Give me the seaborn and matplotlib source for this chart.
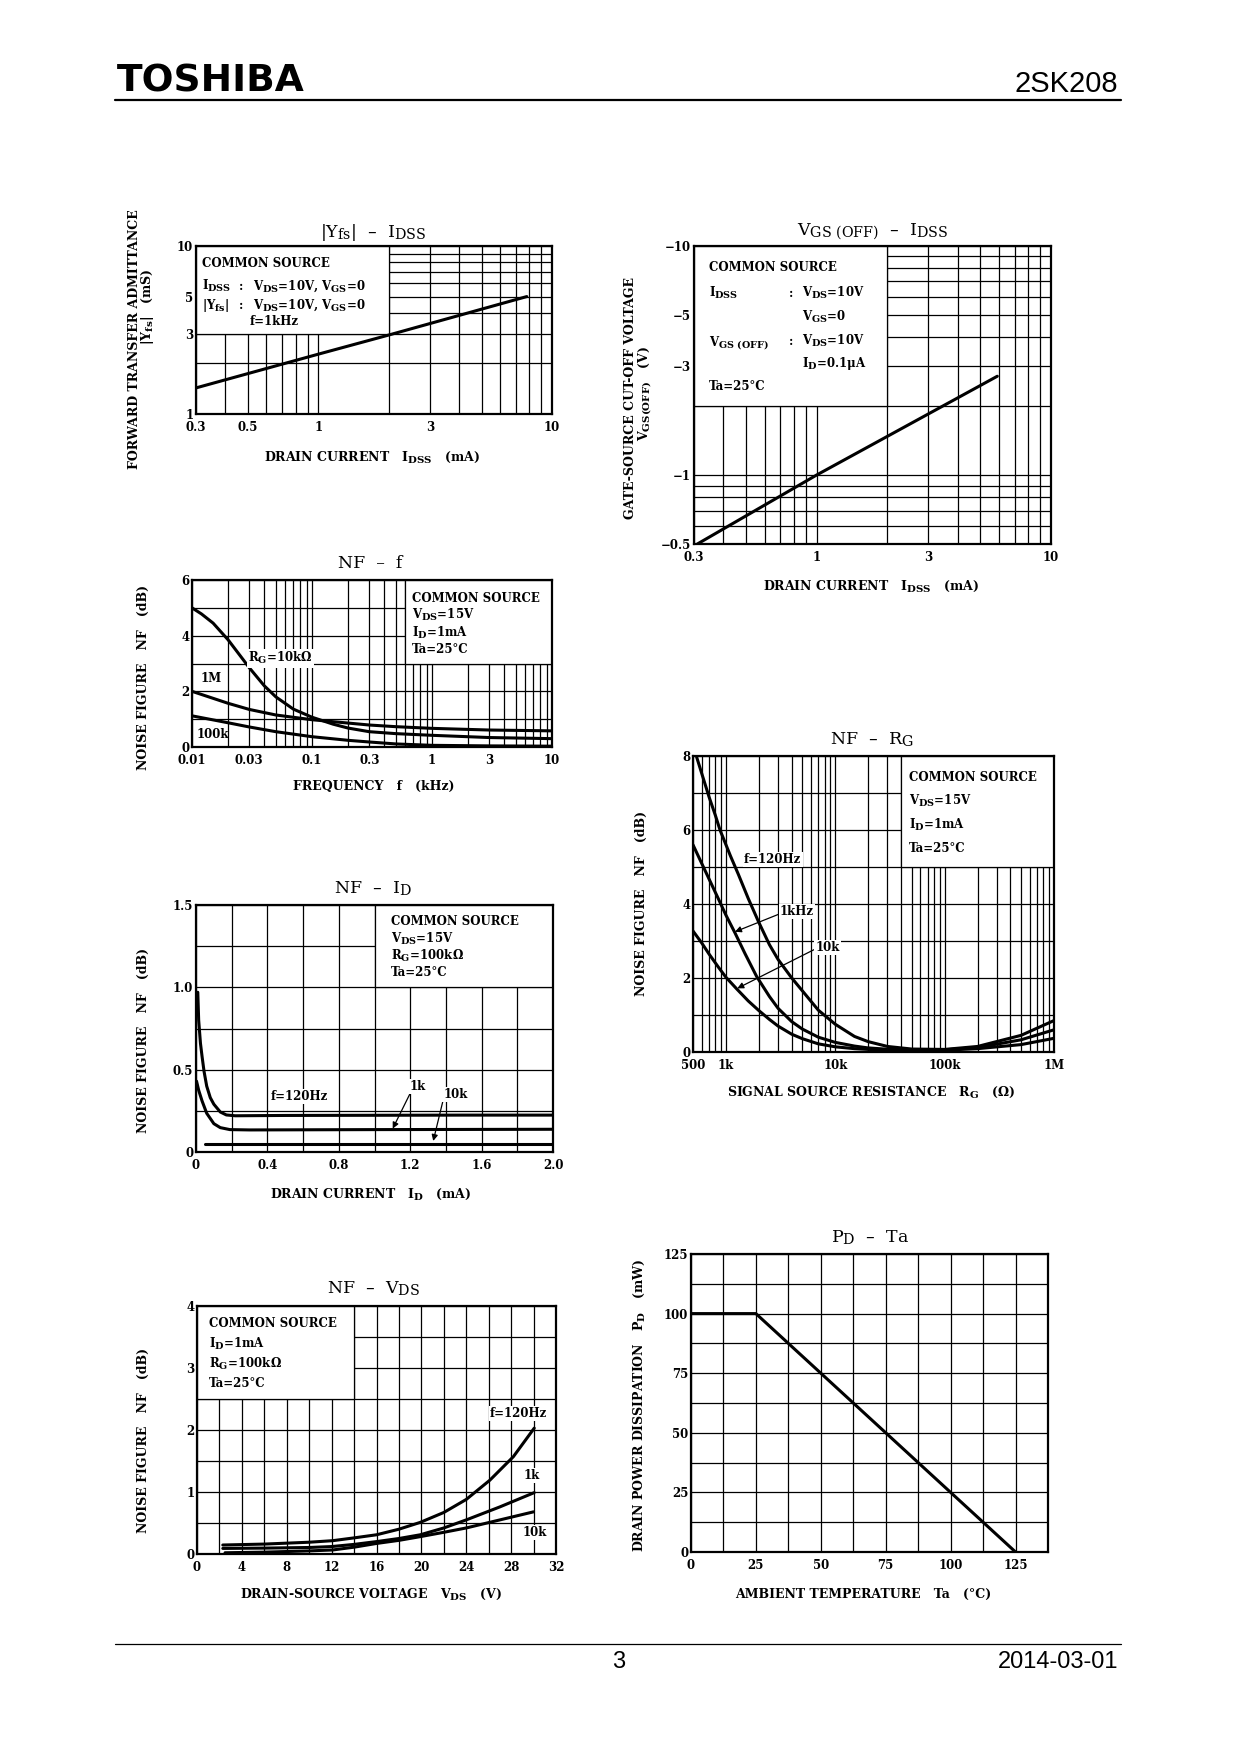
import matplotlib
matplotlib.use("Agg")
import matplotlib.pyplot as plt
import matplotlib._mathtext as _mt
import seaborn as sns
from matplotlib.patches import Rectangle
from matplotlib.lines import Line2D
from matplotlib.ticker import NullFormatter

# ---------------- data ----------------
# |Yfs| - IDSS
yfs_idss = [0.3, 1.0, 2.0, 7.8]
yfs_val = [1.43, 2.27, 2.95, 5.0]

# VGS(OFF) - IDSS  (magnitude of the negative voltage)
vgs_idss = [0.31, 1.0, 5.9]
vgs_val = [0.5, 1.0, 2.7]

# NF - f
nff_f10k = [0.01, 0.012, 0.015, 0.02, 0.025, 0.03, 0.04, 0.05, 0.07, 0.1, 0.15, 0.2, 0.3, 0.5, 1, 3, 10]
nff_10k = [5.0, 4.78, 4.45, 3.85, 3.3, 2.85, 2.2, 1.8, 1.36, 1.07, 0.82, 0.68, 0.55, 0.48, 0.42, 0.34, 0.30]
nff_f = [0.01, 0.02, 0.03, 0.05, 0.1, 0.2, 0.3, 0.5, 1, 3, 10]
nff_1M = [2.0, 1.57, 1.35, 1.15, 0.98, 0.86, 0.79, 0.73, 0.67, 0.61, 0.58]
nff_100k = [1.12, 0.87, 0.72, 0.55, 0.37, 0.24, 0.18, 0.11, 0.06, 0.04, 0.03]

# NF - RG
rg_120 = [540, 620, 700, 800, 883, 1100, 1300, 1600, 1980, 2500, 3000, 4000, 4760, 7000,
          10e3, 15e3, 20e3, 30e3, 50e3, 100e3, 200e3, 500e3, 1e6]
nfrg_120 = [7.97, 7.4, 6.9, 6.4, 6.0, 5.3, 4.8, 4.15, 3.53, 2.9, 2.5, 2.0, 1.73, 1.13,
            0.75, 0.42, 0.28, 0.15, 0.08, 0.07, 0.15, 0.45, 0.85]
rg_1k = [500, 600, 700, 850, 1000, 1210, 1500, 1910, 2500, 3000, 4000, 5000, 7000,
         10e3, 15e3, 20e3, 30e3, 50e3, 100e3, 200e3, 500e3, 1e6]
nfrg_1k = [5.6, 5.1, 4.68, 4.15, 3.7, 3.22, 2.65, 2.04, 1.5, 1.18, 0.82, 0.62, 0.4,
           0.26, 0.16, 0.11, 0.075, 0.05, 0.06, 0.12, 0.33, 0.6]
rg_10k = [500, 600, 700, 850, 1000, 1260, 1600, 2000, 2500, 3000, 4000, 5000, 7000,
          10e3, 15e3, 20e3, 50e3, 100e3, 200e3, 500e3, 1e6]
nfrg_10k = [3.27, 2.95, 2.65, 2.3, 2.02, 1.7, 1.38, 1.12, 0.88, 0.7, 0.48, 0.36, 0.22,
            0.14, 0.09, 0.07, 0.04, 0.05, 0.09, 0.2, 0.37]

# NF - ID
id_120 = [0.01, 0.015, 0.025, 0.034, 0.045, 0.06, 0.08, 0.1, 0.136, 0.17, 0.22, 0.5, 1.0, 1.5, 2.0]
nfid_120 = [0.97, 0.80, 0.66, 0.58, 0.49, 0.40, 0.33, 0.29, 0.243, 0.225, 0.22, 0.222, 0.223, 0.224, 0.224]
id_1k = [0.003, 0.015, 0.034, 0.06, 0.1, 0.136, 0.19, 0.3, 1.0, 2.0]
nfid_1k = [0.43, 0.375, 0.31, 0.235, 0.172, 0.148, 0.136, 0.134, 0.136, 0.138]
id_10k = [0.05, 1.0, 2.0]
nfid_10k = [0.047, 0.047, 0.047]

# NF - VDS
vds_120 = [2.3, 6, 10, 12.1, 14, 16, 18, 19.9, 22, 24, 26.1, 28.2, 30.06]
nfv_120 = [0.145, 0.16, 0.19, 0.215, 0.26, 0.31, 0.40, 0.51, 0.67, 0.88, 1.19, 1.57, 2.03]
vds_1k = [2.3, 6, 10, 12, 14, 16, 18, 19.9, 22, 24, 27, 30.06]
nfv_1k = [0.09, 0.095, 0.105, 0.12, 0.155, 0.2, 0.25, 0.31, 0.42, 0.55, 0.76, 0.99]
vds_10k = [2.5, 6, 10, 12.1, 14, 16, 18, 19.9, 22, 24, 27, 30]
nfv_10k = [0.02, 0.03, 0.05, 0.065, 0.11, 0.17, 0.22, 0.28, 0.35, 0.42, 0.55, 0.68]

# PD - Ta
pd_ta = [0, 25, 125]
pd_val = [100, 100, 0]

# ---------------- style ----------------
sns.set_theme(style="white")
plt.rcParams["font.family"] = ["DejaVu Serif", "DejaVu Sans"]
plt.rcParams["mathtext.default"] = "regular"
_mt.SHRINK_FACTOR = 0.82   # larger subscripts, like the printed datasheet

W, H = 1240, 1754
fig = plt.figure(figsize=(W / 100, H / 100), dpi=100)
fig.patch.set_facecolor("white")

FS = 8.5    # box text / ticks
LS = 9.0    # axis labels
TS = 12.5   # titles


def T(x, y, s, size=FS, weight="bold", ha="left", va="baseline", rot=0, fam=None, bg=False):
    kw = {}
    if fam:
        kw["family"] = fam
    if bg:
        kw["bbox"] = dict(facecolor="white", edgecolor="none", pad=1.0)
    fig.text(x / W, 1 - y / H, s, fontsize=size, fontweight=weight, ha=ha, va=va,
             rotation=rot, color="black", **kw)


def make_ax(l, t, r, b):
    return fig.add_axes([l / W, 1 - b / H, (r - l) / W, (b - t) / H])


def finish(ax, xlim, ylim, xmaj, xlab, ymaj, ylab, xmin, ymin, xlog=False, ylog=False):
    if xlog:
        ax.set_xscale("log")
    if ylog:
        ax.set_yscale("log")
    ax.set_xlim(*xlim)
    ax.set_ylim(*ylim)
    ax.set_xticks(xmaj, xlab, fontsize=FS, fontweight="bold")
    ax.set_yticks(ymaj, ylab, fontsize=FS, fontweight="bold")
    ax.set_xticks(xmin, minor=True)
    ax.set_yticks(ymin, minor=True)
    ax.xaxis.set_minor_formatter(NullFormatter())
    ax.yaxis.set_minor_formatter(NullFormatter())
    ax.tick_params(which="both", length=0, colors="black")
    ax.tick_params(axis="x", which="major", pad=5)
    ax.tick_params(axis="y", which="major", pad=2)
    ax.grid(True, which="both", color="black", linewidth=0.9)
    ax.set_axisbelow(True)
    ax.set_xlabel("")
    ax.set_ylabel("")
    ax.set_facecolor("white")
    for sp in ax.spines.values():
        sp.set_visible(True)
        sp.set_color("black")
        sp.set_linewidth(1.6)


def curve(ax, x, y, lw=2.2):
    sns.lineplot(x=x, y=y, ax=ax, color="black", linewidth=lw, estimator=None,
                 sort=False, zorder=3)


def box(ax, x0, y0, x1, y1):
    ax.add_patch(Rectangle((x0, y0), x1 - x0, y1 - y0, facecolor="white",
                           edgecolor="black", linewidth=0.9, zorder=2))


def arrow(ax, start, tip):
    ax.annotate("", xy=tip, xytext=start, zorder=4,
                arrowprops=dict(arrowstyle="-|>", color="black", lw=0.9,
                                mutation_scale=9, shrinkA=0, shrinkB=0))


dec = lambda a, b: [m * 10 ** e for e in range(a, b) for m in range(2, 10)]

# ---------------- header / footer ----------------
T(117, 92, "TOSHIBA", size=27, weight="bold", fam="DejaVu Sans")
T(1118, 92, "2SK208", size=21, weight="normal", ha="right", fam="Liberation Sans")
fig.add_artist(Line2D([115 / W, 1121 / W], [1 - 100 / H, 1 - 100 / H], color="black", lw=1.6))
fig.add_artist(Line2D([115 / W, 1121 / W], [1 - 1644 / H, 1 - 1644 / H], color="black", lw=0.9))
T(619, 1668, "3", size=17, weight="normal", ha="center", fam="Liberation Sans")
T(1118, 1668, "2014-03-01", size=17, weight="normal", ha="right", fam="Liberation Sans")

# ---------------- 1: |Yfs| - IDSS ----------------
ax = make_ax(196, 246, 552, 414)
curve(ax, yfs_idss, yfs_val)
finish(ax, (0.3, 10), (1, 10), [0.3, 0.5, 1, 3, 10], ["0.3", "0.5", "1", "3", "10"],
       [1, 3, 5, 10], ["1", "3", "5", "10"],
       [0.4, 0.6, 0.7, 0.8, 0.9] + dec(0, 1), dec(0, 1), xlog=True, ylog=True)
box(ax, 0.3, 3, 2, 10)
T(373, 237, "$|Y_{fs}|$  –  $I_{DSS}$", size=TS, weight="normal", ha="center")
T(201.7, 267, "COMMON SOURCE")
for yy, lab in [(290, "$I_{DSS}$"), (309, "$|Y_{fs}|$")]:
    T(201.7, yy, lab)
    T(239, yy, ":")
    T(252.7, yy, "$V_{DS}$=10V, $V_{GS}$=0")
T(250, 325, "f=1kHz")
T(135, 339, "FORWARD TRANSFER ADMITTANCE", size=LS, rot=90, ha="center", va="center")
T(148, 307, "$|Y_{fs}|$   (mS)", size=LS, rot=90, ha="center", va="center")
T(372, 461, "DRAIN CURRENT   $I_{DSS}$   (mA)", size=LS, ha="center")

# ---------------- 2: VGS(OFF) - IDSS ----------------
ax = make_ax(694, 246, 1051, 544)
curve(ax, vgs_idss, vgs_val)
finish(ax, (0.3, 10), (0.5, 10), [0.3, 1, 3, 10], ["0.3", "1", "3", "10"],
       [0.5, 1, 3, 5, 10], ["−0.5", "−1", "−3", "−5", "−10"],
       [0.4, 0.5, 0.6, 0.7, 0.8, 0.9] + dec(0, 1), [0.6, 0.7, 0.8, 0.9] + dec(0, 1),
       xlog=True, ylog=True)
box(ax, 0.3, 2, 2, 10)
T(873, 235, "$V_{GS\\ (OFF)}$  –  $I_{DSS}$", size=TS, weight="normal", ha="center")
T(709.3, 271, "COMMON SOURCE")
T(709.3, 297, "$I_{DSS}$")
T(789.3, 297, ":")
T(801.7, 297, "$V_{DS}$=10V")
T(801.7, 321, "$V_{GS}$=0")
T(709.3, 345, "$V_{GS\\ (OFF)}$")
T(789.3, 345, ":")
T(801.7, 345, "$V_{DS}$=10V")
T(801.7, 367, "$I_D$=0.1μA")
T(709.3, 390, "Ta=25°C")
T(630, 398, "GATE-SOURCE CUT-OFF VOLTAGE", size=LS, rot=90, ha="center", va="center")
T(645, 393, "$V_{GS(OFF)}$   (V)", size=LS, rot=90, ha="center", va="center")
T(871, 590, "DRAIN CURRENT   $I_{DSS}$   (mA)", size=LS, ha="center")

# ---------------- 3: NF - f ----------------
ax = make_ax(192, 580, 552, 747)
curve(ax, nff_f10k, nff_10k)
curve(ax, nff_f, nff_1M)
curve(ax, nff_f, nff_100k)
finish(ax, (0.01, 10), (0, 6), [0.01, 0.03, 0.1, 0.3, 1, 3, 10],
       ["0.01", "0.03", "0.1", "0.3", "1", "3", "10"],
       [0, 2, 4, 6], ["0", "2", "4", "6"], dec(-2, 1), [1, 3, 5], xlog=True)
box(ax, 0.6, 3, 10, 6)
T(370, 568, "NF  –  f", size=TS, weight="normal", ha="center")
T(412.3, 602, "COMMON SOURCE")
T(412.3, 619, "$V_{DS}$=15V")
T(412.3, 637, "$I_D$=1mA")
T(412.3, 653, "Ta=25°C")
T(248.3, 662, "$R_G$=10kΩ", bg=True)
T(200.7, 682, "1M")
T(197, 738, "100k")
T(143, 677, "NOISE FIGURE   NF   (dB)", size=LS, rot=90, ha="center", va="center")
T(374, 790, "FREQUENCY   f   (kHz)", size=LS, ha="center")

# ---------------- 4: NF - RG ----------------
ax = make_ax(693, 756, 1054, 1052)
curve(ax, rg_120, nfrg_120)
curve(ax, rg_1k, nfrg_1k)
curve(ax, rg_10k, nfrg_10k)
finish(ax, (500, 1e6), (0, 8), [500, 1e3, 1e4, 1e5, 1e6], ["500", "1k", "10k", "100k", "1M"],
       [0, 2, 4, 6, 8], ["0", "2", "4", "6", "8"],
       [600, 700, 800, 900] + dec(3, 6), [1, 3, 5, 7], xlog=True)
box(ax, 40e3, 5, 1e6, 8)
arrow(ax, (3080, 3.73), (1211, 3.25))
arrow(ax, (6530, 2.78), (1271, 1.72))
T(872, 744, "NF  –  $R_G$", size=TS, weight="normal", ha="center")
T(909.3, 781, "COMMON SOURCE")
T(909.3, 805, "$V_{DS}$=15V")
T(909.3, 829, "$I_D$=1mA")
T(909.3, 852, "Ta=25°C")
T(744, 863, "f=120Hz", bg=True)
T(780, 915, "1kHz", bg=True)
T(815.7, 951, "10k", bg=True)
T(641, 903, "NOISE FIGURE   NF   (dB)", size=LS, rot=90, ha="center", va="center")
T(871, 1096, "SIGNAL SOURCE RESISTANCE   $R_G$   (Ω)", size=LS, ha="center")

# ---------------- 5: NF - ID ----------------
ax = make_ax(196, 905, 553, 1152)
curve(ax, id_120, nfid_120)
curve(ax, id_1k, nfid_1k)
curve(ax, id_10k, nfid_10k)
finish(ax, (0, 2.0), (0, 1.5), [0, 0.4, 0.8, 1.2, 1.6, 2.0],
       ["0", "0.4", "0.8", "1.2", "1.6", "2.0"],
       [0, 0.5, 1.0, 1.5], ["0", "0.5", "1.0", "1.5"],
       [0.2, 0.6, 1.0, 1.4, 1.8], [0.25, 0.75, 1.25])
box(ax, 1.0, 1.0, 2.0, 1.5)
arrow(ax, (1.197, 0.35), (1.102, 0.142))
arrow(ax, (1.382, 0.304), (1.329, 0.067))
T(373, 893, "NF  –  $I_D$", size=TS, weight="normal", ha="center")
T(390.7, 925, "COMMON SOURCE")
T(390.7, 943, "$V_{DS}$=15V")
T(390.7, 960, "$R_G$=100kΩ")
T(390.7, 976, "Ta=25°C")
T(270.7, 1100, "f=120Hz", bg=True)
T(410, 1090, "1k", bg=True)
T(443.3, 1098, "10k", bg=True)
T(143, 1040, "NOISE FIGURE   NF   (dB)", size=LS, rot=90, ha="center", va="center")
T(371, 1198, "DRAIN CURRENT   $I_D$   (mA)", size=LS, ha="center")

# ---------------- 6: NF - VDS ----------------
ax = make_ax(197, 1306, 556, 1554)
curve(ax, vds_120, nfv_120)
curve(ax, vds_1k, nfv_1k)
curve(ax, vds_10k, nfv_10k)
finish(ax, (0, 32), (0, 4), list(range(0, 33, 4)), [str(v) for v in range(0, 33, 4)],
       [0, 1, 2, 3, 4], ["0", "1", "2", "3", "4"],
       list(range(2, 32, 4)), [0.5, 1.5, 2.5, 3.5])
box(ax, 0, 2.5, 14, 4)
T(373, 1293, "NF  –  $V_{DS}$", size=TS, weight="normal", ha="center")
T(209.3, 1327, "COMMON SOURCE")
T(209.3, 1348, "$I_D$=1mA")
T(209.3, 1368, "$R_G$=100kΩ")
T(209.3, 1387, "Ta=25°C")
T(490, 1417, "f=120Hz", bg=True)
T(524, 1479, "1k", bg=True)
T(522.3, 1536, "10k", bg=True)
T(143, 1440, "NOISE FIGURE   NF   (dB)", size=LS, rot=90, ha="center", va="center")
T(371, 1598, "DRAIN-SOURCE VOLTAGE   $V_{DS}$   (V)", size=LS, ha="center")

# ---------------- 7: PD - Ta ----------------
ax = make_ax(691, 1254, 1048, 1552)
curve(ax, pd_ta, pd_val)
finish(ax, (0, 137.5), (0, 125), [0, 25, 50, 75, 100, 125], ["0", "25", "50", "75", "100", "125"],
       [0, 25, 50, 75, 100, 125], ["0", "25", "50", "75", "100", "125"],
       [12.5, 37.5, 62.5, 87.5, 112.5], [12.5, 37.5, 62.5, 87.5, 112.5])
T(870, 1242, "$P_D$  –  Ta", size=TS, weight="normal", ha="center")
T(639, 1405, "DRAIN POWER DISSIPATION   $P_D$   (mW)", size=LS, rot=90, ha="center", va="center")
T(863, 1598, "AMBIENT TEMPERATURE   Ta   (°C)", size=LS, ha="center")

fig.savefig("out.png", dpi=100, facecolor="white")
